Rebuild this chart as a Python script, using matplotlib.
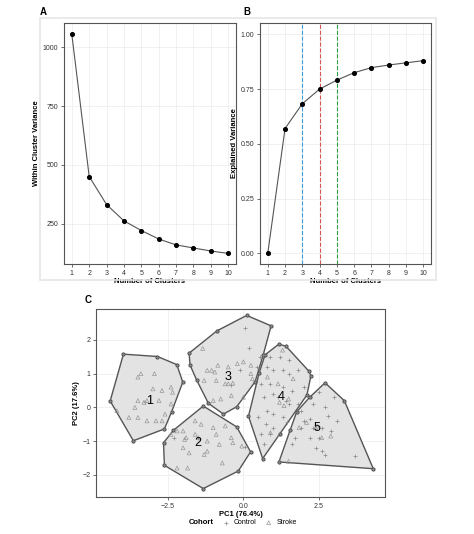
import numpy as np
import matplotlib.pyplot as plt
from matplotlib.patches import Polygon, Rectangle

plt.rcParams['font.family'] = ['Liberation Sans', 'DejaVu Sans']

# elbow / explained variance data
k = [1, 2, 3, 4, 5, 6, 7, 8, 9, 10]
wcv = [1054, 451, 332, 263, 222, 186, 161, 148, 135, 125]
expl = [0.0, 0.570, 0.683, 0.750, 0.791, 0.825, 0.848, 0.860, 0.870, 0.880]
vlines = [3, 4, 5]
vcolors = ['#3a9ad9', '#d9534f', '#2e9e3e']

# PCA points per cluster (control / stroke)
ctrl = {
    1: [(-3.98, 1.58), (-2.85, 1.51), (-2.21, 1.27), (-2.01, 0.75), (-2.38, -0.13), (-2.62, -0.64),
        (-3.65, -0.99), (-4.42, 0.19), (-3.25, 0.15)],
    2: [(-1.33, 0.04), (-0.22, -0.58), (0.06, -1.17), (0.24, -1.32), (-0.17, -1.89), (-1.33, -2.41),
        (-2.62, -1.72), (-2.65, -1.05), (-2.32, -0.68), (-1.5, -0.9), (-2.3, -0.9)],
    3: [(-1.80, 1.61), (-0.88, 2.27), (0.11, 2.73), (0.92, 2.42), (0.66, 1.56), (0.39, 0.76),
        (-0.22, 0.02), (-0.66, -0.2), (-1.16, 0.12), (-1.55, 0.81), (-1.77, 1.26),
        (0.05, 2.35), (0.2, 1.75), (0.55, 1.5), (0.45, 1.2), (-0.4, 0.65), (-0.1, 1.1)],
    4: [(1.18, 1.88), (1.42, 1.81), (2.18, 1.07), (2.24, 0.93), (2.11, 0.37), (1.44, -0.43),
        (0.64, -1.52), (0.17, -0.26), (0.52, 1.01), (0.72, 1.56),
        (0.9, 1.5), (1.2, 1.5), (1.5, 1.4), (0.8, 1.2), (1.0, 1.1), (1.3, 1.1), (1.5, 1.0), (1.8, 1.1),
        (0.6, 0.7), (0.9, 0.7), (1.3, 0.6), (1.6, 0.5), (2.0, 0.6), (0.7, 0.3), (1.0, 0.4), (1.15, 0.3),
        (1.4, 0.2), (1.5, 0.1), (1.8, 0.1), (0.8, -0.1), (1.0, -0.2), (1.3, -0.3), (0.5, -0.3),
        (0.75, -0.5), (1.0, -0.6), (0.6, -0.8), (0.9, -0.8), (0.7, -1.1)],
    5: [(2.71, 0.73), (3.35, 0.2), (4.31, -1.82), (1.18, -1.62), (1.55, -0.68), (1.77, -0.13),
        (2.2, 0.3), (2.5, 0.45), (3.0, 0.3), (2.3, 0.1), (2.7, 0.0), (1.9, -0.1), (2.2, -0.35),
        (2.8, -0.25), (3.1, -0.4), (1.9, -0.6), (2.3, -0.6), (2.6, -0.6), (1.7, -0.9), (2.2, -0.9),
        (2.5, -0.9), (2.9, -0.7), (1.6, -1.1), (2.4, -1.2), (2.6, -1.3), (2.7, -1.4), (3.7, -1.45),
        (2.0, -0.4)],
}
stroke = {
    1: [(-3.5, 0.9), (-3.4, 1.0), (-2.95, 1.0), (-3.0, 0.55), (-2.7, 0.5), (-2.4, 0.6), (-2.35, 0.45),
        (-3.5, 0.2), (-3.6, 0.0), (-3.3, 0.15), (-3.2, 0.2), (-2.8, 0.2), (-2.4, 0.1), (-3.8, -0.3),
        (-3.5, -0.3), (-3.2, -0.4), (-2.9, -0.4), (-2.7, -0.4), (-4.2, -0.1), (-2.6, -0.2)],
    2: [(-2.2, -0.7), (-2.0, -0.7), (-1.9, -0.9), (-1.6, -0.4), (-1.4, -0.5), (-1.0, -0.6), (-0.6, -0.55),
        (-1.6, -0.8), (-1.5, -0.9), (-1.2, -1.0), (-0.9, -0.8), (-0.8, -1.1), (-0.4, -0.9), (-0.35, -1.05),
        (-2.0, -1.2), (-1.8, -1.35), (-1.3, -1.4), (-1.2, -1.3), (-0.7, -1.65), (-2.2, -1.8), (-1.85, -1.8),
        (-0.05, -1.15), (-2.4, -0.8), (-1.95, -0.95)],
    3: [(-1.35, 1.75), (-1.2, 1.1), (-1.05, 1.1), (-0.95, 1.05), (-0.85, 1.25), (-0.5, 1.2), (-0.2, 1.3),
        (0.0, 1.35), (0.25, 1.25), (-0.9, 0.8), (-0.6, 0.7), (-0.5, 0.7), (-0.35, 0.72), (0.3, 0.85),
        (-0.4, 0.35), (-0.75, 0.25), (-1.0, 0.2), (0.0, 0.3), (-1.3, 0.8), (0.25, 1.0)],
    4: [(1.15, 0.7), (0.8, 0.9), (1.2, 0.15), (1.35, 0.05), (1.5, 0.25), (0.9, -0.75), (1.2, -0.8),
        (1.65, 0.85), (1.3, 1.7)],
    5: [(1.85, -0.6), (2.4, -0.6), (2.6, -0.9), (2.9, -0.85), (1.5, -1.6), (2.1, -0.45), (2.45, -0.55)],
}
label_pos = {1: (-3.1, 0.2), 2: (-1.5, -1.05), 3: (-0.5, 0.9), 4: (1.25, 0.3), 5: (2.45, -0.6)}


def convex_hull(pts):
    pts = sorted(set(pts))

    def cross(o, a, b):
        return (a[0] - o[0]) * (b[1] - o[1]) - (a[1] - o[1]) * (b[0] - o[0])
    lower, upper = [], []
    for p in pts:
        while len(lower) >= 2 and cross(lower[-2], lower[-1], p) <= 0:
            lower.pop()
        lower.append(p)
    for p in reversed(pts):
        while len(upper) >= 2 and cross(upper[-2], upper[-1], p) <= 0:
            upper.pop()
        upper.append(p)
    return lower[:-1] + upper[:-1]


def style_ax(ax):
    ax.grid(True, color='#ebebeb', lw=0.5)
    ax.set_axisbelow(True)
    for s in ax.spines.values():
        s.set_color('#555555')
        s.set_linewidth(0.8)
    ax.tick_params(labelsize=5, length=2, width=0.5, colors='#333333', pad=2)


fig = plt.figure(figsize=(4.74, 5.34), dpi=100)
W, H = 474, 534
fig.patches.append(Rectangle((40 / W, 1 - 280 / H), 396 / W, 262 / H, transform=fig.transFigure,
                             fc='none', ec='#e6e6e6', lw=1.2))

axA = fig.add_axes([64 / W, 1 - 264 / H, 172 / W, 241 / H])
axA.plot(k, wcv, color='#555555', lw=0.8)
axA.scatter(k, wcv, s=7, color='black', zorder=3)
axA.set_xlim(0.55, 10.45)
axA.set_ylim(80, 1102)
axA.set_xticks(k)
axA.set_yticks([250, 500, 750, 1000])
axA.set_xlabel('Number of Clusters', fontsize=5.5, fontweight='bold', labelpad=1)
axA.set_ylabel('Within Cluster Variance', fontsize=5.5, fontweight='bold', labelpad=2)
style_ax(axA)
fig.text(40 / W, 1 - 12 / H, 'A', fontsize=7, fontweight='bold', va='center')

axB = fig.add_axes([260 / W, 1 - 264 / H, 171 / W, 241 / H])
for x, c in zip(vlines, vcolors):
    axB.axvline(x, color=c, ls='--', lw=0.8)
axB.plot(k, expl, color='#555555', lw=0.8)
axB.scatter(k, expl, s=7, color='black', zorder=3)
axB.set_xlim(0.55, 10.45)
axB.set_ylim(-0.049, 1.052)
axB.set_xticks(k)
axB.set_yticks([0, 0.25, 0.5, 0.75, 1.0])
axB.set_yticklabels(['0.00', '0.25', '0.50', '0.75', '1.00'])
axB.set_xlabel('Number of Clusters', fontsize=5.5, fontweight='bold', labelpad=1)
axB.set_ylabel('Explained Variance', fontsize=5.5, fontweight='bold', labelpad=2)
style_ax(axB)
fig.text(243 / W, 1 - 12 / H, 'B', fontsize=7, fontweight='bold', va='center')

axC = fig.add_axes([96 / W, 1 - 497 / H, 289 / W, 188 / H])
for c in range(1, 6):
    pts = ctrl[c] + stroke[c]
    hull = convex_hull(pts)
    axC.add_patch(Polygon(hull, closed=True, fc='#e3e3e3', ec='#555555', lw=1.0, zorder=1))
    hx = [p[0] for p in hull]
    hy = [p[1] for p in hull]
    axC.scatter(hx, hy, s=4, color='#555555', zorder=2)
    cx = [p[0] for p in ctrl[c]]
    cy = [p[1] for p in ctrl[c]]
    axC.scatter(cx, cy, s=6, marker='+', color='#888888', lw=0.5, zorder=3)
    sx = [p[0] for p in stroke[c]]
    sy = [p[1] for p in stroke[c]]
    axC.scatter(sx, sy, s=8, marker='^', facecolor='none', edgecolor='#999999', lw=0.5, zorder=3)
    axC.text(*label_pos[c], str(c), fontsize=9, ha='center', va='center', zorder=4)
axC.set_xlim(-4.89, 4.70)
axC.set_ylim(-2.66, 2.92)
axC.set_xticks([-2.5, 0.0, 2.5])
axC.set_yticks([-2, -1, 0, 1, 2])
axC.set_xlabel('PC1 (76.4%)', fontsize=5.5, fontweight='bold', labelpad=1)
axC.set_ylabel('PC2 (17.6%)', fontsize=5.5, fontweight='bold', labelpad=2)
style_ax(axC)
fig.text(85 / W, 1 - 300 / H, 'C', fontsize=7, fontweight='bold', va='center')

# legend: title on the left, entries inline
fig.text(214 / W, 1 - 523 / H, 'Cohort', fontsize=5.5, fontweight='bold', ha='right', va='center')
h1 = axC.scatter([], [], s=6, marker='+', color='#888888', lw=0.5, label='Control')
h2 = axC.scatter([], [], s=8, marker='^', facecolor='none', edgecolor='#999999', lw=0.5, label='Stroke')
fig.legend(handles=[h1, h2], loc='center left', bbox_to_anchor=(214 / W, 1 - 523 / H), ncol=2,
           frameon=False, fontsize=5, handletextpad=0.1, columnspacing=0.8, borderpad=0.2)

fig.savefig('out.png', dpi=100)
